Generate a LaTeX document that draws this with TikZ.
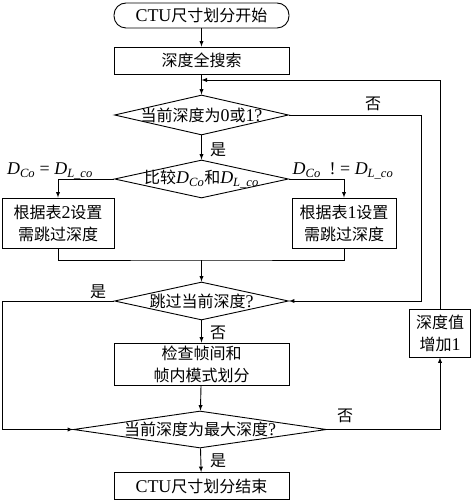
\documentclass[tikz,border=0pt]{standalone}
\usepackage{fontspec}
\setmainfont{Liberation Serif}[Scale=1.12]
\newfontfamily\cjk{Noto Sans CJK SC}
\usepackage{tikz}
\usetikzlibrary{arrows}
\usetikzlibrary{shapes.geometric}
\newcommand{\zh}[1]{{\cjk #1}}
\newcommand{\dco}{\textit{D}\textsubscript{\textit{Co}}}
\newcommand{\dlco}{\textit{D}\textsubscript{\textit{L\_co}}}

\begin{document}
\begin{tikzpicture}[x=1pt, y=-1pt, line width=0.9pt, >=latex,
    every node/.style={font=\fontsize{16}{22}\selectfont},
    box/.style={draw, rectangle, inner sep=0pt, align=center},
    dia/.style={draw, diamond, inner sep=0pt}]
            \useasboundingbox (0,0) rectangle (474,502);
            \coordinate (loop) at (201.5,80);
            \coordinate (merge) at (201.5,260);
            \coordinate (rt) at (421,0);
            \coordinate (lf) at (2,0);
            \node[box, rounded corners=12pt, minimum width=175pt, minimum height=25pt] (start) at (201.5,15.5) {CTU\zh{尺寸划分开始}};
            \node[box, minimum width=175pt, minimum height=27pt] (search) at (201.5,60.5) {\zh{深度全搜索}};
            \node[dia, minimum width=174pt, minimum height=40pt] (d1) at (201.5,115) {\makebox[0pt]{\zh{当前深度为}0\zh{或}1?}};
            \node[dia, minimum width=174pt, minimum height=38pt] (d2) at (201.5,179) {\makebox[0pt]{\zh{比较}\dco\zh{和}\dlco}};
            \node[box, minimum width=112pt, minimum height=50pt] (boxL) at (58,223) {\zh{根据表}2\zh{设置}\\\zh{需跳过深度}};
            \node[box, minimum width=104pt, minimum height=50pt] (boxR) at (344,223) {\zh{根据表}1\zh{设置}\\\zh{需跳过深度}};
            \node[dia, minimum width=174pt, minimum height=38pt] (d3) at (201.5,301) {\makebox[0pt]{\zh{跳过当前深度}?}};
            \node[box, minimum width=175pt, minimum height=42pt] (check) at (201.5,364) {\zh{检查帧间和}\\\zh{帧内模式划分}};
            \node[dia, minimum width=253pt, minimum height=37pt] (d4) at (200,429.5) {\makebox[0pt]{\zh{当前深度为最大深度}?}};
            \node[box, minimum width=61pt, minimum height=48pt] (inc) at (440,333) {\zh{深度值}\\\zh{增加}1};
            \node[box, minimum width=175pt, minimum height=27pt] (end) at (201.5,486) {CTU\zh{尺寸划分结束}};
            \node (yes1) at (218,150) {\zh{是}};
            \node (no1) at (373,104) {\zh{否}};
            \node (eqL) at (50,171) {\dco{} = \dlco};
            \node (eqR) at (343,171) {\dco\ \ !\ = \dlco};
            \node (yes2) at (98,292) {\zh{是}};
            \node (no2) at (218,333) {\zh{否}};
            \node (no3) at (345,416) {\zh{否}};
            \node (yes3) at (218,461) {\zh{是}};
            \draw[->] (start) -- (search);
            \draw[->] (search) -- (d1);
            \draw[->] (d1) -- (d2);
            \draw[->] (d1.east) -| (rt |- d3.east) -- (d3.east);
            \draw[->] (d2.west) -| (boxL.north);
            \draw[->] (d2.east) -| (boxR.north);
            \draw (boxL.south) |- (merge) -| (boxR.south);
            \draw[->] (merge) -- (d3.north);
            \draw[->] (d3.west) -| (lf |- d4.west) -- (d4.west);
            \draw[->] (d3) -- (check);
            \draw[->] (check) -- (d4);
            \draw[->] (d4) -- (end);
            \draw[->] (d4.east) -| (inc.south);
            \draw[->] (inc.north) |- (loop);
        \end{tikzpicture}
\end{document}
